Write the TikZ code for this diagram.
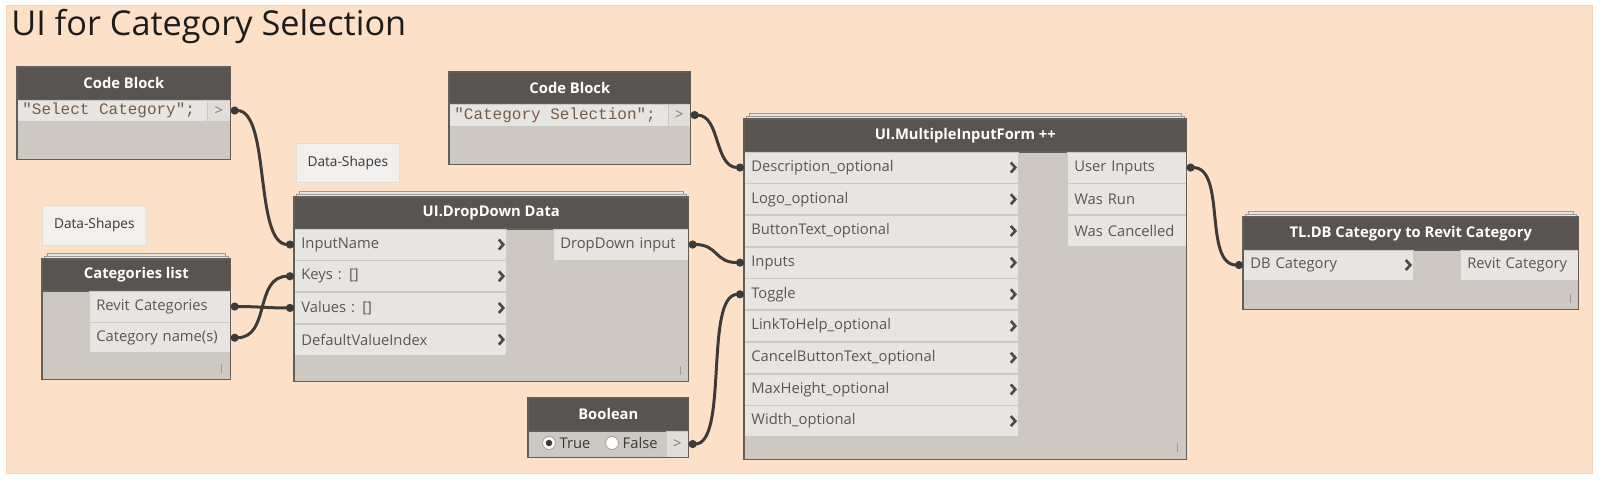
\documentclass[tikz,border=0pt]{standalone}
\usepackage{fontspec}
\setmainfont{Open Sans}
\setmonofont{Liberation Mono}
\usetikzlibrary{positioning, arrows.meta}

\definecolor{canvas}{HTML}{FCE1C8}
\definecolor{canvasedge}{HTML}{F1D7C0}
\definecolor{hdr}{HTML}{585452}
\definecolor{bodyfill}{HTML}{CDC9C2}
\definecolor{rowfill}{HTML}{E7E5E1}
\definecolor{rowline}{HTML}{CCC9C4}
\definecolor{cellfill}{HTML}{E1DEDA}
\definecolor{edge}{HTML}{625E5B}
\definecolor{porttext}{HTML}{5A5654}
\definecolor{codetext}{HTML}{7A5A47}
\definecolor{wirecol}{HTML}{3E3A38}
\definecolor{notefill}{HTML}{F1F0EE}
\definecolor{notetext}{HTML}{3A3735}
\definecolor{chevcol}{HTML}{4E4A48}
\definecolor{gripcol}{HTML}{9C9893}
\definecolor{celltext}{HTML}{7D7975}
\definecolor{titlecol}{HTML}{1E1C1B}

\tikzstyle{header} = [rectangle, anchor=north west, inner sep=0pt, minimum height=0.64cm, fill=hdr, draw=edge, text=white, font=\bfseries\fontsize{8.4}{10}\selectfont]
\tikzstyle{nodebody} = [rectangle, anchor=north west, inner sep=0pt, fill=bodyfill, draw=edge]
\tikzstyle{outport} = [rectangle, inner sep=0pt, inner xsep=0.14cm, minimum height=0.62cm, fill=rowfill, draw=rowline, text=porttext, align=left, font=\fontsize{8.4}{10}\selectfont]
\tikzstyle{inport} = [outport, path picture={\draw [chevline] ([xshift=-0.15cm, yshift=0.1cm]path picture bounding box.east) -- ++(0.09cm,-0.1cm) -- ++(-0.09cm,-0.1cm);}]
\tikzstyle{coderow} = [rectangle, inner sep=0pt, inner xsep=0.1cm, minimum height=0.42cm, fill=rowfill, draw=rowline, text=codetext, align=left, font=\ttfamily\fontsize{9.1}{10}\selectfont]
\tikzstyle{codeport} = [rectangle, inner sep=0pt, minimum height=0.42cm, minimum width=0.46cm, fill=cellfill, draw=rowline, text=celltext, font=\fontsize{8.4}{10}\selectfont]
\tikzstyle{note} = [rectangle, anchor=north west, inner sep=0pt, fill=notefill, draw=notefill!92!black, text=notetext, font=\fontsize{7.8}{9}\selectfont]
\tikzstyle{stackline} = [fill=rowfill, draw=gripcol, line width=0.4pt]
\tikzstyle{chevline} = [draw=chevcol, line width=1.5pt]
\tikzstyle{grip} = [inner sep=0pt, text=gripcol, font=\fontsize{7}{8}\selectfont]
\tikzstyle{radio} = [circle, inner sep=0pt, minimum size=0.26cm, draw=gripcol, fill=white]
\tikzstyle{radiotext} = [anchor=west, inner sep=0pt, text=notetext, font=\fontsize{8.4}{10}\selectfont]
\tikzstyle{wire} = [draw=wirecol, line width=1.7pt, arrows={Circle[length=0.16cm]-Circle[length=0.16cm]}]

\newcommand{\stackbox}[1]{%
  \draw [stackline] ([xshift=0.1cm, yshift=0.12cm]#1.north west) rectangle ([xshift=-0.1cm]#1.north east);
  \draw [stackline] ([xshift=0.05cm, yshift=0.06cm]#1.north west) rectangle ([xshift=-0.05cm]#1.north east);
}
\newcommand{\nodeedge}[2]{\draw [edge, line width=0.8pt] (#1.north west) rectangle (#2.south east);}
\newcommand{\codesp}{\hspace*{0.6em}}

\begin{document}
\begin{tikzpicture}[x=0.02cm, y=-0.02cm]
\useasboundingbox (0,0) rectangle (1600,482);
\fill [white] (0,0) rectangle (1600,482);
\filldraw [fill=canvas, draw=canvasedge] (6,5) rectangle (1592,473);

\node (title) [anchor=base west, inner sep=0pt, text=titlecol, font=\fontsize{19.5}{23}\selectfont] at (11,36) {UI for Category Selection};

% code block: prompt text
\node (cb1h) [header, minimum width=4.26cm] at (17,67) {Code Block};
\node (cb1b) [nodebody, minimum width=4.26cm, minimum height=1.18cm] at (cb1h.south west) {};
\node (cb1code) [coderow, text width=3.6cm, anchor=north west] at (cb1b.north west) {"Select\codesp Category";};
\node (cb1out) [codeport, anchor=north east] at (cb1b.north east) {>};
\nodeedge{cb1h}{cb1b}

% code block: form title
\node (cb2h) [header, minimum width=4.82cm, minimum height=0.62cm] at (449,72) {Code Block};
\node (cb2b) [nodebody, minimum width=4.82cm, minimum height=1.2cm] at (cb2h.south west) {};
\node (cb2code) [coderow, minimum height=0.44cm, text width=4.18cm, anchor=north west] at (cb2b.north west) {"Category\codesp Selection";};
\node (cb2out) [codeport, minimum height=0.44cm, minimum width=0.44cm, anchor=north east] at (cb2b.north east) {>};
\nodeedge{cb2h}{cb2b}

% package notes
\node (dsnote1) [note, minimum width=2.08cm, minimum height=0.8cm] at (42,205) {Data-Shapes};
\node (dsnote2) [note, minimum width=2.06cm, minimum height=0.78cm] at (296,143) {Data-Shapes};

% categories list
\node (clh) [header, minimum width=3.76cm, minimum height=0.62cm] at (42,259) {Categories list};
\stackbox{clh}
\node (clb) [nodebody, minimum width=3.76cm, minimum height=1.76cm] at (clh.south west) {};
\node (revcats) [outport, text width=2.54cm, anchor=north east] at (clb.north east) {Revit Categories};
\node (catnames) [outport, text width=2.54cm, minimum height=0.6cm, below=0pt of revcats] {Category name(s)};
\node (clgrip) [grip] at ([xshift=-0.18cm, yshift=0.2cm]clb.south east) {I};
\nodeedge{clh}{clb}

% dropdown data
\node (ddh) [header, minimum width=7.88cm, minimum height=0.62cm] at (294,197) {UI.DropDown Data};
\stackbox{ddh}
\node (ddb) [nodebody, minimum width=7.88cm, minimum height=3.04cm] at (ddh.south west) {};
\node (ddname) [inport, text width=3.96cm, anchor=north west] at (ddb.north west) {InputName};
\node (ddkeys) [inport, text width=3.96cm, below=0pt of ddname] {Keys : []};
\node (ddvalues) [inport, text width=3.96cm, below=0pt of ddkeys] {Values : []};
\node (ddindex) [inport, text width=3.96cm, below=0pt of ddvalues] {DefaultValueIndex};
\node (ddout) [outport, text width=2.42cm, anchor=north east] at (ddb.north east) {DropDown input};
\node (ddgrip) [grip] at ([xshift=-0.16cm, yshift=0.2cm]ddb.south east) {I};
\nodeedge{ddh}{ddb}

% boolean toggle
\node (boolh) [header, minimum width=3.2cm] at (528,398) {Boolean};
\node (boolb) [nodebody, minimum width=3.2cm, minimum height=0.52cm] at (boolh.south west) {};
\node (boolout) [codeport, minimum height=0.52cm, minimum width=0.44cm, anchor=north east] at (boolb.north east) {>};
\node (truebtn) [radio] at (549,443) {};
\fill [wirecol] (truebtn) circle (0.065cm);
\node (truetext) [radiotext, right=0.07cm of truebtn] {True};
\node (falsebtn) [radio] at (612,443) {};
\node (falsetext) [radiotext, right=0.07cm of falsebtn] {False};
\nodeedge{boolh}{boolb}

% multiple input form
\node (mifh) [header, minimum width=8.84cm] at (744,119) {UI.MultipleInputForm ++};
\stackbox{mifh}
\node (mifb) [nodebody, minimum width=8.84cm, minimum height=6.14cm] at (mifh.south west) {};
\node (mifdesc) [inport, text width=5.2cm, anchor=north west] at (mifb.north west) {Description\_optional};
\node (miflogo) [inport, text width=5.2cm, below=0pt of mifdesc] {Logo\_optional};
\node (mifbutton) [inport, text width=5.2cm, below=0pt of miflogo] {ButtonText\_optional};
\node (mifinputs) [inport, text width=5.2cm, below=0pt of mifbutton] {Inputs};
\node (miftoggle) [inport, text width=5.2cm, below=0pt of mifinputs] {Toggle};
\node (mifhelp) [inport, text width=5.2cm, below=0pt of miftoggle] {LinkToHelp\_optional};
\node (mifcancel) [inport, text width=5.2cm, below=0pt of mifhelp] {CancelButtonText\_optional};
\node (mifheight) [inport, text width=5.2cm, below=0pt of mifcancel] {MaxHeight\_optional};
\node (mifwidth) [inport, text width=5.2cm, below=0pt of mifheight] {Width\_optional};
\node (mifuser) [outport, text width=2.1cm, anchor=north east] at (mifb.north east) {User Inputs};
\node (mifrun) [outport, text width=2.1cm, below=0pt of mifuser] {Was Run};
\node (mifcancelled) [outport, text width=2.1cm, below=0pt of mifrun] {Was Cancelled};
\node (mifgrip) [grip] at ([xshift=-0.18cm, yshift=0.22cm]mifb.south east) {I};
\nodeedge{mifh}{mifb}

% category conversion
\node (tlh) [header, minimum width=6.7cm] at (1243,217) {TL.DB Category to Revit Category};
\stackbox{tlh}
\node (tlb) [nodebody, minimum width=6.7cm, minimum height=1.18cm] at (tlh.south west) {};
\node (tlin) [inport, text width=3.12cm, minimum height=0.6cm, anchor=north west] at (tlb.north west) {DB Category};
\node (tlout) [outport, text width=2.08cm, minimum height=0.6cm, anchor=north east] at (tlb.north east) {Revit Category};
\node (tlgrip) [grip] at ([xshift=-0.16cm, yshift=0.2cm]tlb.south east) {I};
\nodeedge{tlh}{tlb}

% wires
\draw [wire] (cb1out.east) .. controls +(40,0) and +(-40,0) .. (ddname.west);
\draw [wire] (revcats.east) .. controls +(30,0) and +(-30,0) .. (ddvalues.west);
\draw [wire] (catnames.east) .. controls +(40,0) and +(-40,0) .. (ddkeys.west);
\draw [wire] (ddout.east) .. controls +(30,0) and +(-30,0) .. (mifinputs.west);
\draw [wire] (cb2out.east) .. controls +(30,0) and +(-30,0) .. (mifdesc.west);
\draw [wire] (boolout.east) .. controls +(40,0) and +(-40,0) .. (miftoggle.west);
\draw [wire] (mifuser.east) .. controls +(40,0) and +(-40,0) .. (tlin.west);

\end{tikzpicture}
\end{document}
